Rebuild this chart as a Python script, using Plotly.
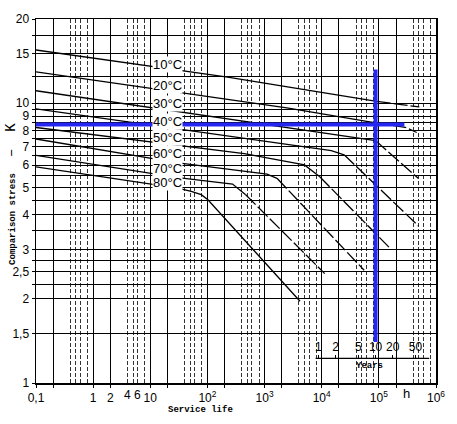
import math
import plotly.graph_objects as go

# ---------------- data ----------------
curve_names = ["10°C", "20°C", "30°C", "40°C", "50°C", "60°C", "70°C", "80°C"]

hours_10 = [0.1, 225, 9.2e4, 5.1e5]
stress_10 = [15.5, 12.4, 10.15, 9.7]
hours_20 = [0.1, 2450, 8.76e4, 2.9e5, 4.6e5]
stress_20 = [12.95, 9.63, 8.5, 8.2, 7.86]
hours_30 = [0.1, 2450, 8.8e4, 4.9e5]
stress_30 = [11.08, 8.19, 7.35, 5.39]
hours_40 = [0.1, 1.47e4, 2.47e4, 4.94e5]
stress_40 = [9.55, 6.77, 6.54, 3.64]
hours_50 = [0.1, 440, 5000, 9250, 1.5e5]
stress_50 = [8.19, 6.6, 6.02, 5.46, 3.06]
hours_60 = [0.1, 30.8, 1107, 1650, 5.53e4]
stress_60 = [7.45, 6.12, 5.58, 5.39, 2.53]
hours_70 = [0.1, 30.8, 275, 467, 1.13e4]
stress_70 = [6.51, 5.42, 5.14, 4.71, 2.46]
hours_80 = [0.1, 30.4, 52, 78, 102, 4170]
stress_80 = [5.92, 4.97, 4.84, 4.71, 4.52, 1.96]

curve_hours = [hours_10, hours_20, hours_30, hours_40, hours_50, hours_60, hours_70, hours_80]
curve_stress = [stress_10, stress_20, stress_30, stress_40, stress_50, stress_60, stress_70, stress_80]

# curve label anchor (service life in h, stress)
label_hours = 20
label_stress = [13.8, 11.55, 9.97, 8.62, 7.57, 6.6, 5.84, 5.22]

# blue reading lines (10 years)
blue_stress = 8.4
blue_h_hours = [0.1, 2.8e5]
blue_years = 10
blue_v_stress = [1.4, 13.2]

hours_per_year = 8760
year_ticks = [1, 2, 5, 10, 20, 50]

x_label_vals = [0.1, 1, 2, 10, 1e2, 1e3, 1e4, 1e5, 1e6]
x_label_text = ["0,1", "1", "2", "10", "10<sup>2</sup>", "10<sup>3</sup>",
                "10<sup>4</sup>", "10<sup>5</sup>", "10<sup>6</sup>"]
x_extra_labels = [4, 6]

y_grid_vals = [1, 1.5, 2, 2.25, 2.5, 2.75, 3, 3.5, 4, 4.5, 5, 5.5, 6, 6.5, 7,
               7.5, 8, 8.5, 9, 9.5, 10, 12.5, 15, 17.5, 20]
y_label_map = {1: "1", 1.5: "1,5", 2: "2", 2.5: "2,5", 3: "3", 4: "4", 5: "5",
               6: "6", 7: "7", 8: "8", 9: "9", 10: "10", 15: "15", 20: "20"}

# ---------------- styles ----------------
dash_from = [2, 2, 2, 2, 3, 3, 3, None]   # index from which the curve is drawn dashed
LINE_W = 1.3
DASH = "14px,3px"
BLUE = "#2626f2"
NUM_FONT = dict(family="Liberation Sans", size=12, color="black")
MONO = "Liberation Mono"

fig = go.Figure()

for h, s, k in zip(curve_hours, curve_stress, dash_from):
    if k is None:
        fig.add_trace(go.Scatter(x=h, y=s, mode="lines",
                                 line=dict(color="black", width=LINE_W), hoverinfo="skip"))
    else:
        fig.add_trace(go.Scatter(x=h[:k + 1], y=s[:k + 1], mode="lines",
                                 line=dict(color="black", width=LINE_W), hoverinfo="skip"))
        fig.add_trace(go.Scatter(x=h[k:], y=s[k:], mode="lines",
                                 line=dict(color="black", width=LINE_W, dash=DASH),
                                 hoverinfo="skip"))

# blue reading lines
fig.add_trace(go.Scatter(x=blue_h_hours, y=[blue_stress] * 2, mode="lines",
                         line=dict(color=BLUE, width=4), hoverinfo="skip"))
fig.add_trace(go.Scatter(x=[blue_years * hours_per_year] * 2, y=blue_v_stress, mode="lines",
                         line=dict(color=BLUE, width=4), hoverinfo="skip"))

# dummy trace to register the years axis
fig.add_trace(go.Scatter(x=year_ticks, y=[None] * len(year_ticks), xaxis="x2", yaxis="y",
                         mode="markers", marker=dict(opacity=0), hoverinfo="skip"))

# vertical grid positions: solid at 1,2 x 10^k, dashed at 4,5,6,8 x 10^k
x_major_grid = []
x_minor_grid = []
for k in range(-1, 7):
    x_major_grid.append(10.0 ** k)
    if k < 6:
        x_major_grid.append(2 * 10.0 ** k)
        for m in (4, 5, 6, 8):
            x_minor_grid.append(m * 10.0 ** k)
x_major_text = []
for v in x_major_grid:
    txt = ""
    for lv, lt in zip(x_label_vals, x_label_text):
        if abs(math.log10(v) - math.log10(lv)) < 1e-9:
            txt = lt
    x_major_text.append(txt)

y_text = [y_label_map.get(v, "") for v in y_grid_vals]

# years scale (overlaying, same span as hours axis)
yr_range = [-1 - math.log10(hours_per_year), 6 - math.log10(hours_per_year)]
years_pos = math.log10(1.224) / math.log10(20)

fig.update_layout(
    width=457, height=424,
    margin=dict(l=36, r=16, t=13, b=41),
    paper_bgcolor="white", plot_bgcolor="white",
    showlegend=False,
    xaxis=dict(type="log", range=[-1, 6], tickmode="array", tickvals=x_major_grid,
               ticktext=x_major_text, showgrid=True, gridcolor="black", gridwidth=1,
               ticks="outside", ticklen=3, tickcolor="black", showline=True,
               linecolor="black", linewidth=1.5, mirror=True, zeroline=False,
               tickfont=NUM_FONT,
               minor=dict(tickmode="array", tickvals=x_minor_grid, showgrid=True,
                          gridcolor="#333333", griddash="4px,2px", gridwidth=1, ticks="")),
    xaxis2=dict(type="log", overlaying="x", anchor="free", position=years_pos, side="top",
                range=yr_range, tickmode="array", tickvals=year_ticks,
                ticktext=[str(v) for v in year_ticks], showgrid=False, showline=False,
                ticks="outside", ticklen=3, tickwidth=1, tickcolor="black",
                tickfont=NUM_FONT, zeroline=False),
    yaxis=dict(type="log", range=[0, math.log10(20)], tickmode="array", tickvals=y_grid_vals,
               ticktext=y_text, showgrid=True, gridcolor="black", gridwidth=1,
               ticks="outside", ticklen=3, tickcolor="black", showline=True,
               linecolor="black", linewidth=1.5, mirror=True, zeroline=False,
               tickfont=NUM_FONT),
    shapes=[
        dict(type="rect", xref="paper", yref="paper", x0=0.693, x1=0.993,
             y0=0.03, y1=0.116, fillcolor="white", line=dict(width=0), layer="between"),
        dict(type="line", xref="paper", yref="paper", x0=0.699, x1=0.983,
             y0=years_pos, y1=years_pos, line=dict(color="black", width=1.3), layer="above"),
    ],
)

annotations = []
for name, ls in zip(curve_names, label_stress):
    annotations.append(dict(x=math.log10(label_hours), y=math.log10(ls), xref="x", yref="y",
                            text=name, showarrow=False, bgcolor="white", borderpad=0,
                            xanchor="center", yanchor="middle",
                            font=dict(family="Liberation Sans", size=13, color="black")))
for v in x_extra_labels:
    annotations.append(dict(x=math.log10(v), y=-0.034, xref="x", yref="paper", text=str(v),
                            showarrow=False, font=NUM_FONT, xanchor="center", yanchor="middle"))
annotations.append(dict(x=math.log10(3.1e5), y=-0.03, xref="x", yref="paper", text="h",
                        showarrow=False, xanchor="center", yanchor="middle",
                        font=dict(family="Liberation Sans", size=13, color="black")))
annotations.append(dict(x=0.41, y=-0.075, xref="paper", yref="paper", text="<b>Service life</b>",
                        showarrow=False, xanchor="center", yanchor="middle",
                        font=dict(family=MONO, size=9, color="black")))
annotations.append(dict(x=math.log10(6.76e4), y=math.log10(1.15), xref="x", yref="y",
                        text="<b>Years</b>", showarrow=False, xanchor="center", yanchor="middle",
                        font=dict(family=MONO, size=9, color="black")))
annotations.append(dict(x=-0.062, y=0.52, xref="paper", yref="paper", textangle=-90,
                        text="<b>Comparison stress</b>   <span style='font-size:14px'>–  K</span>",
                        showarrow=False, xanchor="center", yanchor="middle",
                        font=dict(family=MONO, size=9, color="black")))
fig.update_layout(annotations=annotations)

fig.write_html("out.html", config={"displayModeBar": False, "staticPlot": True},
               post_script="document.body.style.margin='0px';")
